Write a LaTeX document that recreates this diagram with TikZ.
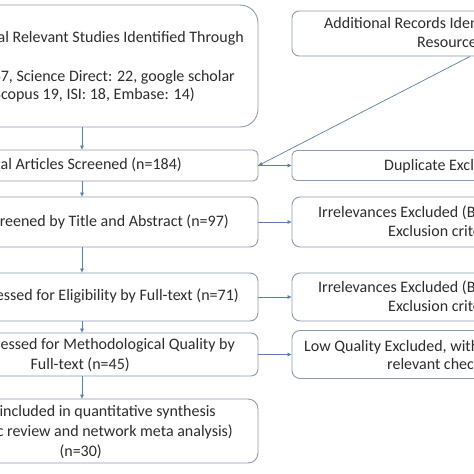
\documentclass[tikz,border=0pt]{standalone}
\usepackage{fontspec}
\setmainfont{Carlito}
\usetikzlibrary{arrows.meta}
\definecolor{boxline}{RGB}{140,155,180}
\definecolor{arrline}{RGB}{95,125,170}
\definecolor{txtcol}{RGB}{45,45,45}

\begin{document}
\begin{tikzpicture}[x=1pt, y=-1pt,
  lbox/.style={draw=boxline, line width=0.9pt, minimum width=352pt, inner sep=0pt},
  rbox/.style={draw=boxline, line width=0.9pt, minimum width=356pt, inner sep=0pt},
  txt/.style={inner sep=0pt, text=txtcol, font=\fontsize{16}{19}\selectfont, text height=11pt, text depth=3.5pt},
  arr/.style={draw=arrline, line width=0.7pt, -{Triangle[length=4pt, width=3.5pt]}}]

\useasboundingbox (0,0) rectangle (474,474);
\fill[white] (0,0) rectangle (474,474);
\clip (0,0) rectangle (474,474);

% left column
\node[lbox, minimum height=122pt, rounded corners=18pt] (search) at (82,66) {};
\node[lbox, minimum height=31pt, rounded corners=5pt] (screen) at (82,165.5) {};
\node[lbox, minimum height=50pt, rounded corners=8pt] (title) at (82,222) {};
\node[lbox, minimum height=48pt, rounded corners=8pt] (elig) at (82,297) {};
\node[lbox, minimum height=43pt, rounded corners=7pt] (quality) at (82,354.5) {};
\node[lbox, minimum height=64pt, rounded corners=10pt] (incl) at (82,431) {};

% right column
\node[rbox, minimum height=45pt, rounded corners=7pt] (other) at (470,33.5) {};
\node[rbox, minimum height=30pt, rounded corners=5pt] (dupl) at (470,165.5) {};
\node[rbox, minimum height=50pt, rounded corners=8pt] (irrone) at (470,222) {};
\node[rbox, minimum height=48pt, rounded corners=8pt] (irrtwo) at (470,297) {};
\node[rbox, minimum height=48pt, rounded corners=8pt] (lowq) at (470,354.5) {};

% texts left
\node[txt, anchor=east] (tsearcha) at (244,39) {Total Relevant Studies Identified Through};
\node[txt, anchor=east] (tsearchb) at (235,78) {47, Science Direct: 22, google scholar};
\node[txt, anchor=east] (tsearchc) at (195,96) {Scopus 19, ISI: 18, Embase: 14)};
\node[txt, anchor=east] (tscreen) at (182,166) {Total Articles Screened (n=184)};
\node[txt, anchor=east] (ttitle) at (229,223) {Screened by Title and Abstract (n=97)};
\node[txt, anchor=east] (telig) at (239,297) {Assessed for Eligibility by Full-text (n=71)};
\node[txt, anchor=east] (tquala) at (235,346) {Assessed for Methodological Quality by};
\node[txt, anchor=east] (tqualb) at (130,366) {Full-text (n=45)};
\node[txt, anchor=east] (tincla) at (216,413) {included in quantitative synthesis};
\node[txt, anchor=east] (tinclb) at (233,433) {(systematic review and network meta analysis)};
\node[txt, anchor=east] (tinclc) at (102,453) {(n=30)};

% texts right
\node[txt, anchor=west] (tothera) at (324,25) {Additional Records Identified};
\node[txt, anchor=west] (totherb) at (417,44) {Resources};
\node[txt, anchor=west] (tdupl) at (384,167) {Duplicate Excluded};
\node[txt, anchor=west] (tirronea) at (318,214) {Irrelevances Excluded (Based};
\node[txt, anchor=west] (tirroneb) at (388,233) {Exclusion criteria};
\node[txt, anchor=west] (tirrtwoa) at (318,289) {Irrelevances Excluded (Based};
\node[txt, anchor=west] (tirrtwob) at (388,308) {Exclusion criteria};
\node[txt, anchor=west] (tlowqa) at (304,348) {Low Quality Excluded, with};
\node[txt, anchor=west] (tlowqb) at (387,366) {relevant checklist};

% arrows
\draw[arr] (search) -- (screen);
\draw[arr] (screen) -- (title);
\draw[arr] (title) -- (elig);
\draw[arr] (elig) -- (quality);
\draw[arr] (quality) -- (incl);
\draw[arr] (other.south) -- (screen.east);
\draw[arr] (screen.east) -- (dupl.west);
\draw[arr] (title.east) -- (irrone.west);
\draw[arr] (elig.east) -- (irrtwo.west);
\draw[arr] (quality.east) -- (lowq.west);

\end{tikzpicture}
\end{document}
